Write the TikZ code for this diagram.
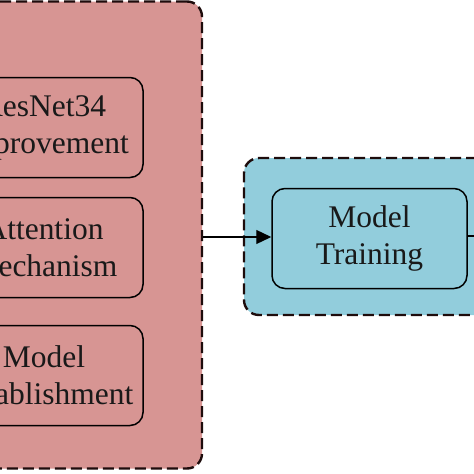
\documentclass[tikz,border=0pt]{standalone}
\usepackage{fontspec}
\setmainfont{Liberation Serif}
\usetikzlibrary{arrows.meta}
\definecolor{redfill}{RGB}{215,149,147}
\definecolor{bluefill}{RGB}{146,205,220}
\definecolor{edgedark}{RGB}{30,12,12}
\begin{document}
\begin{tikzpicture}[x=1pt,y=-1pt,
  group/.style={draw=edgedark, line width=2.4pt, dash pattern=on 11pt off 5pt, rounded corners=15pt, inner sep=0pt},
  box/.style={draw=black, line width=1.5pt, rounded corners=13pt, inner sep=0pt, align=center,
    minimum width=198pt, minimum height=100pt, font=\fontsize{31.5}{37}\selectfont, text=black!90},
  conn/.style={draw=black, line width=1.3pt},
  arrowconn/.style={conn, -{Triangle[length=15pt,width=14pt]}}]
\useasboundingbox (0,0) rectangle (474,474);
\clip (0,0) rectangle (474,474);
% groups
\node[group, fill=redfill, minimum width=502pt, minimum height=467pt] (G1) at (-49,235) {};
\node[group, fill=bluefill, minimum width=456pt, minimum height=157pt] (G2) at (472,236.5) {};
% inner boxes
\node[box, fill=redfill] (B1) at (44,127.5) {ResNet34\\Improvement};
\node[box, fill=redfill] (B2) at (44,247.5) {Attention\\Mechanism};
\node[box, fill=redfill] (B3) at (44,375.5) {Model\\Establishment};
\node[box, fill=bluefill, minimum width=195pt] (MT) at (369.5,238.5) {Model\\Training};
% connectors
\draw[arrowconn] (G1.east |- 0,237) -- (MT.west |- 0,237);
\coordinate (out) at (500,236);
\draw[conn] (MT.east |- out) -- (out);
\end{tikzpicture}
\end{document}
